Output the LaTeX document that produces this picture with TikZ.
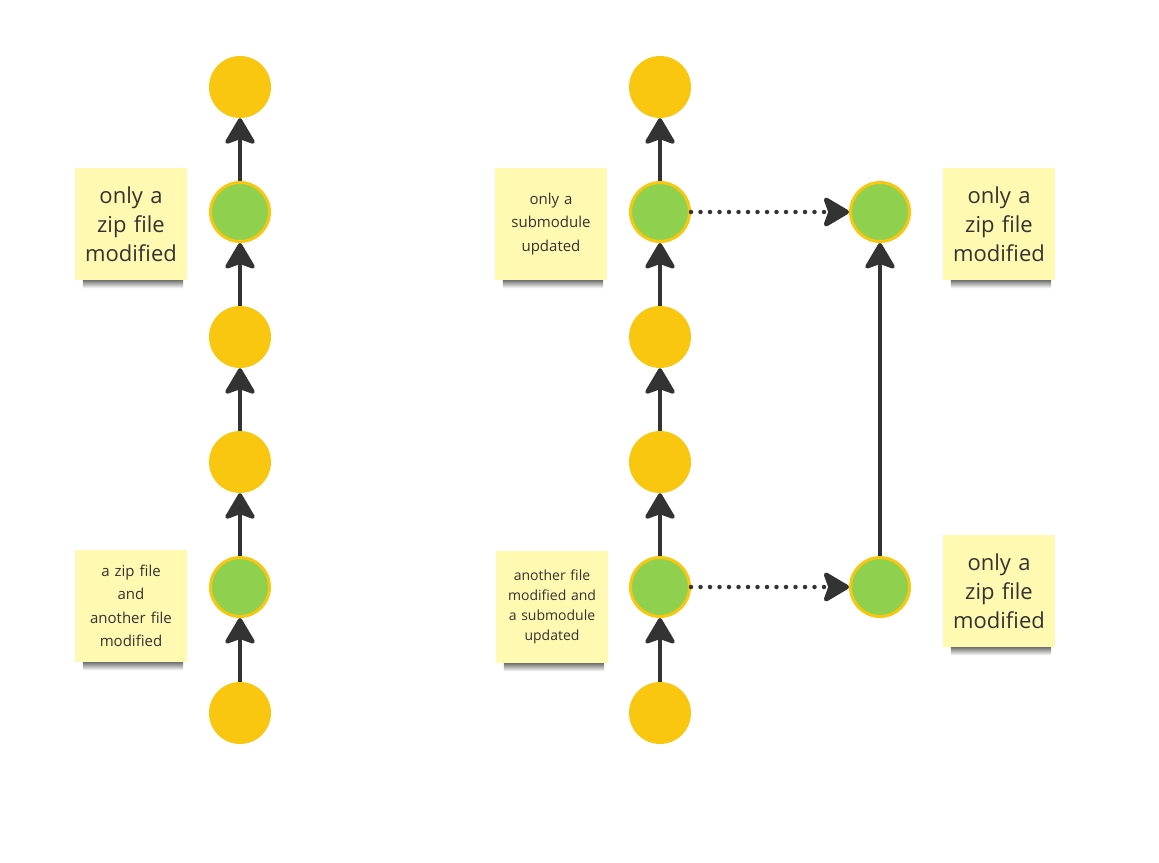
\documentclass[tikz,border=0pt]{standalone}
\usepackage{fontspec}
\setmainfont{Open Sans}
\usetikzlibrary{arrows.meta}
\definecolor{commityellow}{HTML}{FAC710}
\definecolor{commitgreen}{HTML}{8FD14F}
\definecolor{stickyyellow}{HTML}{FFF9B1}
\definecolor{linkgray}{HTML}{333333}
\tikzset{
  commit/.style={circle,fill=commityellow,minimum size=62pt,inner sep=0pt},
  zipcommit/.style={circle,fill=commitgreen,draw=commityellow,line width=3pt,minimum size=59pt,inner sep=0pt},
  parent/.style={-{Stealth[length=29pt,width=34pt,inset=6pt,round]},line width=4pt,linkgray},
  subparent/.style={parent,line cap=round,line width=4.5pt,dash pattern=on 0pt off 9.5pt},
  sticky/.style={fill=stickyyellow,minimum width=112pt,minimum height=112pt,text width=106pt,align=center,inner sep=0pt,text=black!80},
  bignote/.style={sticky,font=\fontsize{22}{29}\selectfont},
  smallnote/.style={sticky,font=\fontsize{15}{23.5}\selectfont},
  tinynote/.style={sticky,font=\fontsize{14}{20}\selectfont},
  noteshadow/.style={top color=black!55,bottom color=white,draw=none}
}
\begin{document}
\begin{tikzpicture}[x=1pt,y=-1pt]
\useasboundingbox (0,0) rectangle (1159,862);
% main history, left
\node[commit]    (a1) at (240,713) {};
\node[zipcommit] (a2) at (240,587) {};
\node[commit]    (a3) at (240,462) {};
\node[commit]    (a4) at (240,337) {};
\node[zipcommit] (a5) at (240,212) {};
\node[commit]    (a6) at (240,87) {};
\foreach \i/\j in {1/2,2/3,3/4,4/5,5/6}{\draw[parent] (a\i) -- (a\j);}
% main history, right
\node[commit]    (b1) at (660,713) {};
\node[zipcommit] (b2) at (660,587) {};
\node[commit]    (b3) at (660,462) {};
\node[commit]    (b4) at (660,337) {};
\node[zipcommit] (b5) at (660,212) {};
\node[commit]    (b6) at (660,87) {};
\foreach \i/\j in {1/2,2/3,3/4,4/5,5/6}{\draw[parent] (b\i) -- (b\j);}
% submodule history
\node[zipcommit] (c1) at (880,587) {};
\node[zipcommit] (c2) at (880,212) {};
\draw[parent] (c1) -- (c2);
\draw[subparent] (b2) -- (c1);
\draw[subparent] (b5) -- (c2);
% notes
\node[bignote]   (na5) at (131,224) {only a\\zip file\\modified};
\node[smallnote] (na2) at (131,606) {a zip file\\and\\another file\\modified};
\node[smallnote] (nb5) at (551,224) {only a\\submodule\\updated};
\node[tinynote]  (nb2) at (552,607) {another file\\modified and\\a submodule\\updated};
\node[bignote]   (nc2) at (999,224) {only a\\zip file\\modified};
\node[bignote]   (nc1) at (999,591) {only a\\zip file\\modified};
\foreach \n in {na5,na2,nb5,nb2,nc2,nc1}{
  \shade[noteshadow] ([xshift=8pt]\n.south west) rectangle ([xshift=-4pt,yshift=-8pt]\n.south east);}
\end{tikzpicture}
\end{document}
